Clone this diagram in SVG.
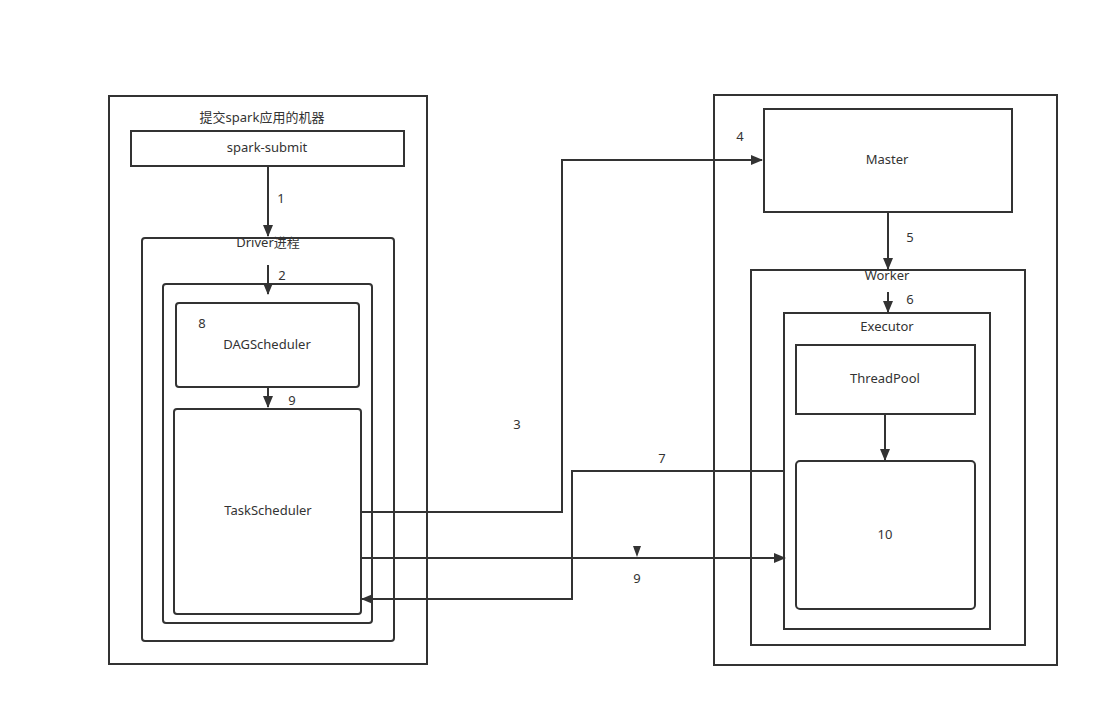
<svg xmlns="http://www.w3.org/2000/svg" width="1119" height="727" viewBox="0 0 1119 727">
<defs>
<marker id="a" markerWidth="12" markerHeight="10" refX="11" refY="5" orient="auto" markerUnits="userSpaceOnUse"><path d="M0,0 L12,5 L0,10 Z" fill="#333"/></marker>
<style>
rect{fill:#fff;stroke:#333;stroke-width:2}
text{font-family:"Noto Sans","Noto Sans CJK SC",sans-serif;font-size:13px;fill:#333;text-anchor:middle;dominant-baseline:middle}
.c path{fill:none;stroke:#333;stroke-width:2}
</style>
</defs>
<rect width="1119" height="727" style="stroke:none"/>
<g id="machine"><rect x="109" y="96" width="318" height="568"/><text x="262" y="119">提交spark应用的机器</text></g>
<g id="submit"><rect x="131" y="131" width="273" height="35"/><text x="267" y="149">spark-submit</text></g>
<g id="driver"><rect x="142" y="238" width="252" height="403" rx="3"/></g>
<g id="inner"><rect x="163" y="284" width="209" height="339" rx="3"/></g>
<g id="dag"><rect x="176" y="303" width="183" height="84" rx="3"/><text x="267" y="346">DAGScheduler</text><text x="202" y="325">8</text></g>
<g id="task"><rect x="174" y="409" width="187" height="205" rx="3"/><text x="268" y="512">TaskScheduler</text></g>
<g id="right"><rect x="714" y="95" width="343" height="570"/></g>
<g id="master"><rect x="764" y="109" width="248" height="103"/><text x="887" y="161">Master</text></g>
<g id="worker"><rect x="751" y="270" width="274" height="375"/></g>
<g id="executor"><rect x="784" y="313" width="206" height="316"/></g>
<g id="threadpool"><rect x="796" y="345" width="179" height="69"/><text x="885" y="380">ThreadPool</text></g>
<g id="task10"><rect x="796" y="461" width="179" height="148" rx="4"/><text x="885" y="536">10</text></g>
<g class="c" id="connectors">
<path d="M268,166 V236" marker-end="url(#a)"/>
<path d="M268,265 V294" marker-end="url(#a)"/>
<path d="M268,387 V407" marker-end="url(#a)"/>
<path d="M361,512 H562 V160 H762" marker-end="url(#a)"/>
<path d="M888,212 V269" marker-end="url(#a)"/>
<path d="M888,292 V312" marker-end="url(#a)"/>
<path d="M885,414 V460" marker-end="url(#a)"/>
<path d="M784,471 H572 V599 H362" marker-end="url(#a)"/>
<path d="M361,558 H785" marker-end="url(#a)"/>
<path d="M633,546 L641,546 L637,557 Z" fill="#333" style="fill:#333;stroke:none"/>
</g>
<g id="labels">
<text x="268" y="244" style="fill:#333">Driver进程</text>
<text x="281" y="200">1</text><text x="282" y="277">2</text><text x="292" y="402">9</text>
<text x="517" y="426">3</text><text x="740" y="138">4</text><text x="910" y="239">5</text>
<text x="887" y="277">Worker</text><text x="910" y="301">6</text><text x="887" y="328">Executor</text>
<text x="662" y="460">7</text><text x="637" y="580">9</text>
</g>
</svg>
